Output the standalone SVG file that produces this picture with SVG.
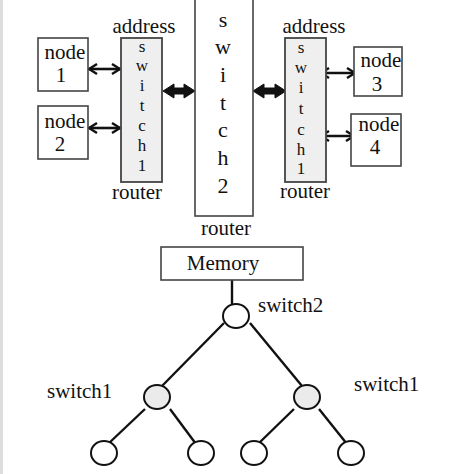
<svg xmlns="http://www.w3.org/2000/svg" width="474" height="474" viewBox="0 0 474 474">
<style>
text{font-family:"Liberation Serif","Times New Roman",serif;fill:#111}
.lbl{font-size:21px}
.v1{font-size:17px;text-anchor:middle}
.v2{font-size:22px;text-anchor:middle}
.box{fill:#fff;stroke:#444;stroke-width:1.6}
.sw{fill:#efefef;stroke:#444;stroke-width:1.8}
.ln{stroke:#111;stroke-width:2.4;fill:none}
.thin{stroke:#111;stroke-width:2.6;fill:none;marker-start:url(#open);marker-end:url(#open)}
.thick{fill:#111;stroke:#111;stroke-width:1}
.c{fill:#fff;stroke:#111;stroke-width:2}
.cg{fill:#ebebeb;stroke:#111;stroke-width:2}
</style>
<defs>
<marker id="open" viewBox="0 0 10 12" refX="9" refY="6" markerWidth="10" markerHeight="12" markerUnits="userSpaceOnUse" orient="auto-start-reverse">
<path d="M1,1 L9,6 L1,11" fill="none" stroke="#111" stroke-width="2.4"/>
</marker>
</defs>
<rect width="474" height="474" fill="#fff"/>
<line x1="1.5" y1="0" x2="1.5" y2="474" stroke="#ddd" stroke-width="3"/>

<g id="connectors">
<line class="thin" x1="89" y1="69" x2="120" y2="69"/>
<line class="thin" x1="89" y1="128" x2="120" y2="128"/>
<line class="thin" x1="321" y1="73" x2="355" y2="73"/>
<line class="thin" x1="321" y1="136" x2="354" y2="136"/>
<polygon class="thick" points="163,91 174,84 174,88 184,88 184,84 195,91 184,98 184,94 174,94 174,98"/>
<polygon class="thick" points="253,91 264,84 264,88 275,88 275,84 286,91 275,98 275,94 264,94 264,98"/>
<line class="ln" x1="232" y1="280" x2="232" y2="304"/>
<line class="ln" x1="224" y1="323" x2="162" y2="386"/>
<line class="ln" x1="250" y1="323" x2="302" y2="386"/>
<line class="ln" x1="145" y1="409" x2="108" y2="444"/>
<line class="ln" x1="170" y1="409" x2="196" y2="444"/>
<line class="ln" x1="294" y1="409" x2="258" y2="444"/>
<line class="ln" x1="319" y1="409" x2="347" y2="444"/>
</g>

<g id="node1">
<rect class="box" x="38" y="38" width="50" height="53"/>
<text class="lbl" x="65" y="59" text-anchor="middle">node</text>
<text class="lbl" x="61" y="82" text-anchor="middle">1</text>
</g>
<g id="node2">
<rect class="box" x="38" y="106" width="50" height="53"/>
<text class="lbl" x="65" y="128" text-anchor="middle">node</text>
<text class="lbl" x="60" y="151" text-anchor="middle">2</text>
</g>
<g id="node3">
<rect class="box" x="354" y="47" width="48" height="49"/>
<text class="lbl" x="381" y="67" text-anchor="middle">node</text>
<text class="lbl" x="377" y="91" text-anchor="middle">3</text>
</g>
<g id="node4">
<rect class="box" x="351" y="114" width="50" height="52"/>
<text class="lbl" x="379" y="131" text-anchor="middle">node</text>
<text class="lbl" x="375" y="154" text-anchor="middle">4</text>
</g>

<g id="switch1-left">
<text class="lbl" x="144" y="33" text-anchor="middle">address</text>
<rect class="sw" x="121" y="38" width="41" height="144"/>
<text class="v1" x="142" y="52">s</text>
<text class="v1" x="142" y="71">w</text>
<text class="v1" x="142" y="91">i</text>
<text class="v1" x="142" y="111">t</text>
<text class="v1" x="142" y="131">c</text>
<text class="v1" x="142" y="151">h</text>
<text class="v1" x="142" y="171">1</text>
<text class="lbl" x="137" y="199" text-anchor="middle">router</text>
</g>

<g id="switch2-router">
<rect class="box" x="195" y="-2" width="58" height="218"/>
<text class="v2" x="223" y="27">s</text>
<text class="v2" x="223" y="54">w</text>
<text class="v2" x="223" y="82">i</text>
<text class="v2" x="223" y="110">t</text>
<text class="v2" x="223" y="137">c</text>
<text class="v2" x="223" y="165">h</text>
<text class="v2" x="223" y="193">2</text>
<text class="lbl" x="226" y="235" text-anchor="middle">router</text>
</g>

<g id="switch1-right">
<text class="lbl" x="314" y="33" text-anchor="middle">address</text>
<rect class="sw" x="285" y="38" width="41" height="144"/>
<text class="v1" x="301" y="53">s</text>
<text class="v1" x="301" y="73">w</text>
<text class="v1" x="301" y="93">i</text>
<text class="v1" x="301" y="114">t</text>
<text class="v1" x="301" y="135">c</text>
<text class="v1" x="301" y="155">h</text>
<text class="v1" x="301" y="174">1</text>
<text class="lbl" x="305" y="198" text-anchor="middle">router</text>
</g>

<g id="memory">
<rect class="box" x="161" y="247" width="142" height="33" stroke-width="2"/>
<text class="lbl" x="223" y="270" text-anchor="middle">Memory</text>
</g>

<g id="tree-switch2">
<ellipse class="c" cx="236" cy="316" rx="13" ry="12"/>
<text class="lbl" x="258" y="312">switch2</text>
</g>
<g id="tree-switch1-left">
<ellipse class="cg" cx="157" cy="397" rx="13" ry="12"/>
<text class="lbl" x="47" y="398">switch1</text>
</g>
<g id="tree-switch1-right">
<ellipse class="cg" cx="307" cy="397" rx="13" ry="12"/>
<text class="lbl" x="354" y="391">switch1</text>
</g>
<g id="leaf1"><ellipse class="c" cx="104" cy="453" rx="13" ry="12"/></g>
<g id="leaf2"><ellipse class="c" cx="201" cy="453" rx="13" ry="12"/></g>
<g id="leaf3"><ellipse class="c" cx="254" cy="453" rx="13" ry="12"/></g>
<g id="leaf4"><ellipse class="c" cx="351" cy="453" rx="13" ry="12"/></g>
</svg>
